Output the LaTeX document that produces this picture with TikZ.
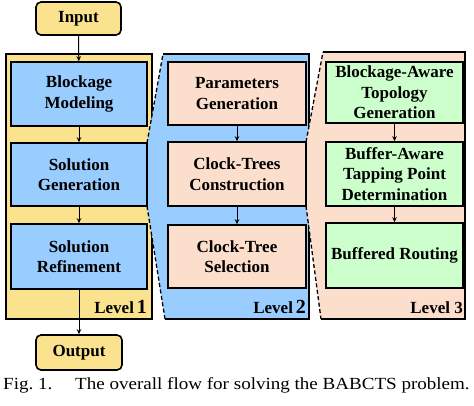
\documentclass[tikz,border=0pt]{standalone}
\usepackage{fontspec}
\setmainfont{Liberation Serif}[BoldFont={Liberation Serif Bold}]
\usetikzlibrary{arrows.meta}
\definecolor{yel}{RGB}{250,226,143}
\definecolor{blu}{RGB}{153,204,255}
\definecolor{pnk}{RGB}{252,222,205}
\definecolor{grn}{RGB}{204,255,204}
\tikzset{
  box/.style={draw=black, line width=1.6pt, align=center, inner sep=0pt,
    font=\fontsize{17}{20.5}\selectfont\bfseries},
  termbox/.style={box, rounded corners=5pt, fill=yel},
  panelline/.style={line width=1.3pt, draw=black},
  dashline/.style={line width=1.3pt, dash pattern=on 4pt off 2.5pt},
  flow/.style={line width=1pt, -{Stealth[length=5pt,width=4.5pt]}},
  lvl/.style={font=\fontsize{17}{20}\selectfont\bfseries, inner sep=0pt, anchor=base east},
}
\begin{document}
\begin{tikzpicture}[x=1pt,y=-1pt]
\useasboundingbox (0,0) rectangle (474,405);
% Level 1 panel
\draw[panelline, fill=yel] (6,54) rectangle (152,319);
% coordinates of box corners for zoom polygons
\coordinate (sgne) at (147,143);
\coordinate (sgse) at (147,206);
\coordinate (l2tl) at (163,54);
\coordinate (l2tr) at (309,54);
\coordinate (l2br) at (309,319);
\coordinate (l2bl) at (165,319);
\coordinate (ctne) at (306,142);
\coordinate (ctse) at (306,206);
\coordinate (l3tl) at (323,52);
\coordinate (l3tr) at (465,52);
\coordinate (l3br) at (465,319);
\coordinate (l3bl) at (321,319);
% Level 2 polygon
\fill[blu] (sgne) -- (l2tl) -- (l2tr) -- (l2br) -- (l2bl) -- (sgse) -- cycle;
\draw[panelline] (l2tl) -- (l2tr) -- (l2br) -- (l2bl);
\draw[dashline] (sgne) -- (l2tl);
\draw[dashline] (sgse) -- (l2bl);
% Level 3 polygon
\fill[pnk] (ctne) -- (l3tl) -- (l3tr) -- (l3br) -- (l3bl) -- (ctse) -- cycle;
\draw[panelline] (l3tl) -- (l3tr) -- (l3br) -- (l3bl);
\draw[dashline] (ctne) -- (l3tl);
\draw[dashline] (ctse) -- (l3bl);
% terminals
\node[termbox, minimum width=85pt, minimum height=33pt] (in) at (78.5,18.5) {Input};
\node[termbox, minimum width=86pt, minimum height=35pt] (out) at (79,352.5) {Output};
% Level 1 boxes
\node[box, fill=blu, minimum width=136pt, minimum height=64pt] (bm) at (79,94) {Blockage\\Modeling};
\node[box, fill=blu, minimum width=136pt, minimum height=63pt] (sg) at (79,174.5) {Solution\\Generation};
\node[box, fill=blu, minimum width=136pt, minimum height=65pt] (sr) at (79,256.5) {Solution\\Refinement};
% Level 2 boxes
\node[box, fill=pnk, minimum width=138pt, minimum height=63pt] (pg) at (237,93.5) {Parameters\\Generation};
\node[box, fill=pnk, minimum width=138pt, minimum height=64pt] (ct) at (237,174) {Clock-Trees\\Construction};
\node[box, fill=pnk, minimum width=138pt, minimum height=63pt] (cs) at (237,256.5) {Clock-Tree\\Selection};
% Level 3 boxes
\node[box, fill=grn, minimum width=137pt, minimum height=61pt] (bt) at (394.5,92.5) {Blockage-Aware\\Topology\\Generation};
\node[box, fill=grn, minimum width=137pt, minimum height=64pt] (tp) at (394.5,174) {Buffer-Aware\\Tapping Point\\Determination};
\node[box, fill=grn, minimum width=137pt, minimum height=65pt] (br) at (394.5,255.5) {Buffered Routing};
% arrows
\draw[flow] (in) -- (bm);
\draw[flow] (bm) -- (sg);
\draw[flow] (sg) -- (sr);
\draw[flow] (sr) -- (out);
\draw[flow] (pg) -- (ct);
\draw[flow] (ct) -- (cs);
\draw[flow] (bt) -- (tp);
\draw[flow] (tp) -- (br);
% level labels
\node[lvl] (lv1) at (147,313) {Level\,{\fontsize{20}{20}\selectfont 1}};
\node[lvl] (lv2) at (306,313) {Level\,{\fontsize{20}{20}\selectfont 2}};
\node[lvl] (lv3) at (463,313) {Level 3};
% caption
\node[anchor=base west, inner sep=0pt] (cap) at (3,389) {\scalebox{1.12}[1]{\fontsize{17}{20}\selectfont Fig.~1.\hspace{1.2em}The overall flow for solving the BABCTS problem.}};
\end{tikzpicture}
\end{document}
